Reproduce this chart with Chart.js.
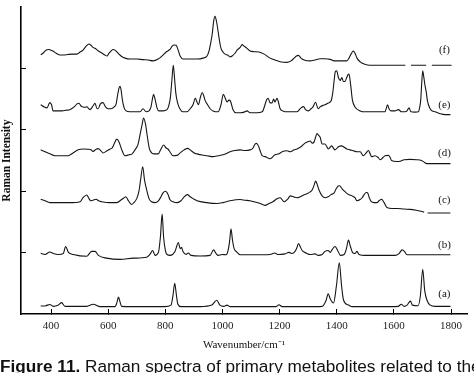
<!DOCTYPE html>
<html><head><meta charset="utf-8">
<script src="https://cdn.jsdelivr.net/npm/chart.js@4.4.1/dist/chart.umd.min.js"></script>
<style>
html,body{margin:0;padding:0;background:#fff;overflow:hidden;width:474px;height:373px;}
#wrap{position:relative;width:474px;height:373px;overflow:hidden;}
canvas{position:absolute;left:0;top:0;}
#cap{position:absolute;left:0;top:356.7px;font-family:"Liberation Sans",Arial,sans-serif;font-size:17.2px;line-height:18px;white-space:nowrap;color:#111;}
</style></head>
<body><div id="wrap"><canvas id="c" width="474" height="373"></canvas><div id="cap"><b>Figure 11.</b> Raman spectra of primary metabolites related to the</div></div>
<script>
// x: wavenumber (cm^-1), y: Raman intensity (a.u., stacked as in the figure)
const xTicks = [400, 600, 800, 1000, 1200, 1400, 1600, 1800];
const yTicks = [20, 40, 60, 80];
const seriesNames = ['(a)', '(b)', '(c)', '(d)', '(e)', '(f)'];
const labelWave = 1777;
const labelLevel = [6.4, 22.6, 37.1, 52.4, 68.2, 86.0];

const specA = [[364,2.6],[382,2.7],[396,3.1],[408,2.5],[426,2.9],[437,3.7],[449,2.5],[484,2.5],[525,2.5],[548,3.2],[572,2.4],[624,2.4],[631,3.8],[636,5.5],[642,3.8],[647,2.5],[712,2.4],[770,2.4],[799,2.4],[820,2.9],[827,6.1],[833,10.0],[839,6.1],[844,3.2],[855,2.4],[922,2.4],[963,2.9],[980,4.5],[991,2.9],[1005,2.5],[1016,2.9],[1027,2.4],[1097,2.4],[1188,2.4],[1198,3.0],[1209,2.4],[1307,2.4],[1349,2.5],[1363,4.5],[1370,6.6],[1378,4.8],[1389,3.6],[1399,9.2],[1409,16.7],[1417,9.2],[1424,4.5],[1442,2.9],[1454,2.4],[1552,2.4],[1615,2.5],[1626,3.2],[1636,2.5],[1646,2.9],[1658,4.2],[1665,2.9],[1685,2.7],[1693,6.1],[1701,14.6],[1708,7.6],[1716,4.5],[1727,2.9],[1744,2.5],[1798,2.5]];

const specB = [[364,19.8],[379,19.4],[396,20.2],[408,19.7],[426,19.4],[443,19.7],[451,22.0],[461,20.1],[478,19.4],[525,18.8],[542,20.4],[554,20.4],[566,19.1],[595,18.2],[642,17.8],[688,18.2],[735,18.5],[746,19.4],[756,20.7],[764,19.1],[776,20.1],[783,25.2],[789,32.6],[794,25.2],[801,20.4],[806,19.4],[817,19.1],[834,20.4],[846,23.3],[852,21.3],[857,21.7],[862,20.4],[873,19.4],[880,19.9],[890,19.1],[922,18.9],[957,19.1],[969,20.9],[978,19.7],[985,19.1],[999,19.4],[1013,19.3],[1019,20.4],[1025,23.6],[1030,27.8],[1035,24.2],[1041,21.3],[1048,20.4],[1062,19.3],[1097,19.3],[1139,19.3],[1167,19.4],[1184,19.9],[1193,19.4],[1219,19.6],[1233,20.1],[1244,19.7],[1254,20.4],[1261,21.7],[1266,23.0],[1272,22.0],[1279,20.7],[1286,20.2],[1296,19.7],[1307,19.4],[1324,19.6],[1335,19.1],[1349,19.4],[1359,20.4],[1370,20.7],[1377,20.1],[1384,21.0],[1394,22.0],[1405,20.4],[1413,19.1],[1426,19.4],[1434,21.3],[1441,24.1],[1448,22.0],[1455,20.1],[1464,19.7],[1471,20.4],[1478,19.4],[1499,19.1],[1552,19.1],[1604,19.1],[1618,19.7],[1629,20.9],[1637,20.4],[1646,19.3],[1692,19.3],[1744,19.3],[1798,19.3]];

const specC = [[364,37.4],[379,36.9],[396,36.3],[432,36.3],[466,36.3],[502,36.6],[512,37.9],[525,38.8],[533,37.6],[539,36.9],[547,37.1],[558,37.4],[568,36.8],[577,36.6],[606,36.3],[630,36.3],[647,37.3],[656,37.9],[662,38.2],[671,36.9],[682,35.7],[690,36.3],[700,37.6],[708,40.1],[713,43.3],[721,48.0],[727,43.9],[735,40.4],[743,37.6],[752,36.6],[764,36.3],[776,36.9],[785,38.2],[792,39.5],[801,40.0],[810,38.9],[816,37.3],[827,36.6],[841,36.3],[855,36.9],[866,38.2],[878,38.9],[887,38.2],[897,37.6],[911,36.9],[946,36.3],[981,36.0],[1002,36.3],[1027,36.9],[1062,37.3],[1079,37.1],[1097,36.9],[1114,36.5],[1132,36.0],[1149,35.4],[1163,36.0],[1177,36.6],[1191,37.6],[1202,37.9],[1216,36.6],[1230,37.6],[1237,38.5],[1251,38.1],[1261,37.9],[1272,38.2],[1286,38.9],[1296,39.2],[1307,39.8],[1314,40.4],[1321,42.0],[1326,43.3],[1331,42.4],[1338,40.4],[1349,38.5],[1359,37.9],[1370,38.2],[1380,38.9],[1391,39.5],[1398,40.8],[1405,41.7],[1410,41.8],[1419,40.8],[1426,40.1],[1433,39.5],[1443,38.9],[1454,38.5],[1464,37.9],[1471,36.9],[1482,37.3],[1489,37.9],[1496,38.9],[1503,39.6],[1508,39.5],[1514,37.9],[1521,36.6],[1531,36.3],[1541,36.3],[1548,36.9],[1557,37.4],[1566,36.3],[1576,34.7],[1594,34.4],[1611,34.4],[1636,34.2],[1657,34.1],[1678,33.8],[1699,33.4],[1706,33.2],[1712,null],[1718,32.9],[1798,32.9]];

const specD = [[364,53.5],[379,52.9],[396,52.2],[414,51.6],[439,51.6],[460,51.6],[477,52.5],[495,53.5],[512,53.8],[530,53.7],[540,53.5],[547,53.0],[558,53.7],[565,53.9],[575,53.2],[582,52.5],[596,53.2],[607,53.8],[614,54.1],[621,55.4],[630,57.0],[638,56.1],[649,53.2],[659,51.6],[673,51.9],[684,52.2],[694,53.5],[705,55.4],[712,58.6],[719,61.8],[724,63.9],[731,61.8],[736,58.6],[743,54.5],[747,53.2],[761,52.2],[775,52.2],[785,53.8],[794,55.1],[803,54.1],[810,53.7],[816,52.9],[827,51.6],[841,51.7],[852,52.5],[866,53.5],[878,54.0],[887,53.5],[901,52.5],[911,52.2],[929,51.8],[946,51.6],[967,51.3],[985,51.6],[1002,51.9],[1016,52.4],[1027,52.9],[1044,53.3],[1062,53.5],[1079,53.3],[1097,53.5],[1107,54.1],[1112,55.1],[1119,55.6],[1126,54.8],[1132,53.2],[1139,51.6],[1149,51.3],[1167,50.6],[1184,51.9],[1198,52.2],[1209,52.9],[1226,53.2],[1237,52.9],[1251,53.5],[1261,53.8],[1275,54.5],[1289,55.7],[1300,56.2],[1307,56.4],[1314,55.7],[1321,56.1],[1326,57.6],[1331,58.8],[1336,58.3],[1342,57.6],[1349,55.4],[1359,55.4],[1371,53.8],[1382,54.8],[1394,53.5],[1406,54.5],[1417,54.8],[1435,53.8],[1447,53.5],[1458,53.2],[1471,52.9],[1482,52.9],[1493,51.6],[1503,52.5],[1511,53.3],[1517,52.2],[1522,51.3],[1534,51.6],[1545,51.0],[1552,50.3],[1562,51.0],[1569,51.6],[1581,51.7],[1587,51.0],[1592,50.0],[1610,49.7],[1622,49.8],[1636,50.3],[1657,50.4],[1680,50.3],[1697,50.0],[1706,49.5],[1715,49.0],[1744,49.0],[1798,49.0]];

const specE = [[364,68.2],[376,67.5],[386,67.2],[393,68.5],[396,68.9],[402,68.2],[407,66.2],[421,66.2],[439,66.2],[452,66.4],[466,66.6],[481,67.5],[491,68.5],[498,68.7],[505,67.8],[512,67.5],[519,67.4],[526,67.5],[536,66.6],[547,67.8],[554,68.7],[561,66.9],[565,66.9],[573,68.5],[582,68.9],[591,67.5],[600,66.9],[610,66.9],[621,67.5],[628,68.5],[633,71.3],[638,73.6],[642,74.2],[645,73.2],[650,69.7],[656,67.2],[663,66.2],[676,65.9],[698,65.9],[712,65.9],[722,66.9],[733,65.9],[743,66.2],[750,67.5],[755,70.1],[759,71.6],[764,70.1],[771,67.2],[778,66.2],[792,66.2],[806,66.6],[813,68.2],[818,70.7],[823,76.1],[828,81.1],[833,76.1],[837,71.9],[843,68.8],[851,66.9],[862,65.9],[876,65.9],[887,66.9],[897,68.2],[905,70.3],[911,69.1],[916,68.2],[923,70.7],[929,72.2],[934,71.3],[939,69.7],[948,68.2],[957,66.9],[967,66.2],[985,65.9],[995,68.2],[1003,71.6],[1011,70.1],[1016,69.1],[1023,69.7],[1028,69.4],[1037,66.6],[1048,65.6],[1062,65.6],[1076,65.8],[1086,66.2],[1097,65.6],[1121,65.6],[1139,65.9],[1149,68.2],[1154,69.7],[1160,70.3],[1167,68.8],[1174,68.8],[1179,70.1],[1184,69.1],[1191,70.3],[1196,69.1],[1202,66.9],[1212,66.2],[1226,65.9],[1244,65.9],[1261,65.9],[1275,67.2],[1284,67.6],[1291,66.6],[1300,66.2],[1310,66.9],[1317,67.5],[1326,69.0],[1335,66.9],[1342,67.5],[1352,68.0],[1359,68.2],[1371,68.8],[1380,69.4],[1386,72.0],[1391,76.1],[1395,79.0],[1400,79.3],[1406,77.1],[1412,76.1],[1418,77.1],[1423,75.8],[1429,75.8],[1435,77.1],[1440,78.0],[1443,78.2],[1449,74.5],[1455,69.7],[1464,67.5],[1482,66.2],[1499,65.9],[1517,65.9],[1541,65.9],[1569,65.9],[1574,67.2],[1578,68.2],[1583,66.9],[1590,66.2],[1604,66.2],[1616,66.6],[1627,65.9],[1639,65.9],[1646,66.2],[1653,67.2],[1660,65.9],[1674,65.8],[1686,65.9],[1690,67.2],[1694,69.7],[1697,74.5],[1701,79.3],[1705,77.1],[1709,74.5],[1714,72.0],[1717,69.7],[1727,66.9],[1734,66.2],[1744,65.9],[1762,65.3],[1779,65.0],[1798,65.0]];

const specF = [[364,84.5],[372,85.0],[379,85.7],[386,86.1],[393,86.2],[400,86.0],[407,85.7],[418,85.0],[432,84.4],[442,84.4],[460,84.6],[477,84.7],[491,84.7],[502,85.4],[512,86.0],[523,87.3],[533,88.0],[540,87.6],[547,86.9],[554,86.6],[565,85.8],[579,85.0],[589,84.4],[596,84.1],[603,85.0],[610,85.7],[617,86.2],[624,86.0],[635,85.0],[645,84.1],[659,83.4],[677,83.1],[701,83.1],[722,82.9],[740,82.8],[757,82.5],[775,83.1],[792,84.4],[803,85.4],[817,86.3],[824,87.3],[831,87.7],[838,87.6],[845,86.0],[852,84.1],[862,83.1],[887,83.1],[911,83.1],[932,83.4],[946,84.1],[953,85.7],[958,87.9],[964,91.1],[969,95.2],[974,97.0],[979,95.5],[985,92.0],[990,88.9],[995,86.6],[1002,85.4],[1009,84.7],[1018,84.4],[1027,83.8],[1034,84.1],[1044,85.0],[1051,86.0],[1062,86.9],[1069,87.8],[1076,87.3],[1086,86.6],[1097,85.7],[1111,85.5],[1128,85.4],[1146,84.7],[1167,83.4],[1184,82.8],[1202,82.2],[1226,82.0],[1240,82.5],[1251,83.4],[1259,84.1],[1266,84.3],[1275,83.4],[1286,82.8],[1307,82.5],[1324,82.8],[1342,83.2],[1359,83.2],[1377,83.0],[1391,82.5],[1412,82.5],[1435,82.5],[1443,83.4],[1450,84.7],[1458,85.7],[1464,85.0],[1471,83.4],[1482,82.2],[1496,81.5],[1517,81.1],[1587,81.1],[1640,81.1],[1650,null],[1660,81.1],[1713,81.1],[1723,null],[1733,81.1],[1802,81.1]];

const allSpectra = [specA, specB, specC, specD, specE, specF];

const serif = '"Liberation Serif", "Times New Roman", serif';

const labelPlugin = {
  id: 'specLabels',
  afterDatasetsDraw(chart) {
    const { ctx, scales: { x, y } } = chart;
    ctx.save();
    ctx.font = '11px ' + serif;
    ctx.fillStyle = '#111';
    ctx.textAlign = 'center';
    ctx.textBaseline = 'middle';
    seriesNames.forEach((n, i) => {
      ctx.fillText(n, x.getPixelForValue(labelWave), y.getPixelForValue(labelLevel[i]));
    });
    ctx.restore();
  }
};

new Chart(document.getElementById('c'), {
  type: 'line',
  data: {
    datasets: allSpectra.map((s, i) => ({
      label: seriesNames[i],
      data: s.map(p => ({ x: p[0], y: p[1] })),
      borderColor: '#151515',
      borderWidth: 1.1,
      pointRadius: 0,
      fill: false,
      spanGaps: false,
      cubicInterpolationMode: 'monotone'
    }))
  },
  options: {
    responsive: false,
    animation: false,
    devicePixelRatio: 1,
    layout: { padding: { left: 0, right: 7, top: 0, bottom: 19 } },
    plugins: { legend: { display: false }, tooltip: { enabled: false } },
    scales: {
      x: {
        type: 'linear', min: 295, max: 1856,
        afterBuildTicks: s => { s.ticks = xTicks.map(v => ({ value: v })); },
        afterFit: s => { s.height = 40; },
        grid: { drawOnChartArea: false, drawTicks: true, tickLength: -5, tickColor: '#000', tickWidth: 1 },
        border: { display: true, color: '#000', width: 1.6 },
        ticks: { padding: 11, color: '#222', font: { family: serif, size: 11 }, maxRotation: 0, autoSkip: false, callback: v => String(v) },
        title: { display: true, text: 'Wavenumber/cm⁻¹', color: '#111', font: { family: serif, size: 11 }, padding: { top: 0, bottom: 2.4 } }
      },
      y: {
        type: 'linear', min: 0, max: 100,
        afterBuildTicks: s => { s.ticks = yTicks.map(v => ({ value: v })); },
        afterFit: s => { s.width = 21; },
        grid: { drawOnChartArea: false, drawTicks: true, tickLength: -5, tickColor: '#000', tickWidth: 1 },
        border: { display: true, color: '#000', width: 1.6 },
        ticks: { callback: () => '', padding: 0 },
        title: { display: true, text: 'Raman Intensity', color: '#111', font: { family: serif, size: 11.5, weight: 'bold' }, padding: { top: 0.5, bottom: 0 } }
      }
    }
  },
  plugins: [labelPlugin]
});
</script>
</body></html>
